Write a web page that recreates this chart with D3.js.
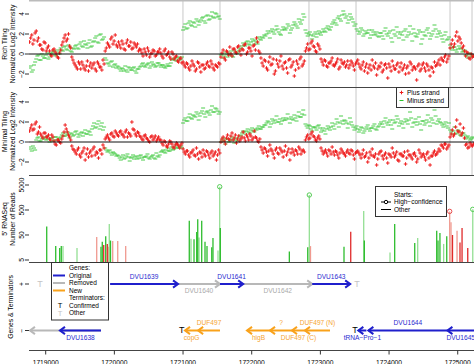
<!DOCTYPE html>
<html><head><meta charset="utf-8">
<script src="https://cdn.jsdelivr.net/npm/d3@7"></script>
<style>body{margin:0;background:#fff}svg{display:block;font-family:"Liberation Sans",Arial,Helvetica,sans-serif}</style>
</head><body><svg id="c" width="474" height="364"></svg>
<script>
// ---------- DATA ----------
// probe layout: two interleaved probe sets (A at start + i*step, B offset by half a step)
const probeStart = 1718765, probeStep = 32.4;
const richPlus = [1.2,1.9,1.4,2.3,1.6, 0.9,0.4,1.1,0.6, 0.3,-0.2,0.5,0.0,-0.4, 0.4,1.2,1.9,1.5,0.8,
 -0.3,-0.9,-1.3,-0.8,-1.5,-1.1,-1.6,-0.7,-1.2,-1.4,-0.9,-1.7,-1.0,-1.3,-0.6,
 0.3,1.1,0.7,1.7,1.3,0.9, 1.2,0.6,1.0,0.4,1.4,0.8,0.5,1.1,0.7,0.3,
 0.4,-0.2,0.2,0.6,-0.3,0.1,0.3,-0.1,0.2, 0.1,-0.4,0.5,0.0,-0.3,0.2, -0.5,-0.2,-0.8,-0.4,
 -0.8,-1.3,-1.0,-1.6,-0.7,-1.2,-1.5,-0.9,-1.8,-1.1,-1.4,-0.8,-1.3,-1.0,-1.6,-1.2,-0.9,
 -0.3,0.4,-0.6,0.2,0.7,-0.2, 0.5,0.1,0.8,-0.1,0.4,1.0,0.2,0.6,-0.2,0.9,1.6,0.3,
 -0.4,-1.2,-0.7,-1.6,-0.3,-1.0,-2.0,-0.6,-1.3,-0.2,-1.5,-0.8,-1.9,-0.5,-1.1,-2.2,-0.7,-1.4,-0.3,-1.0,
 0.3,1.0,0.5,1.3,0.7,0.2,0.8,
 -0.5,-1.1,-0.7,-1.3,-0.9,-0.4,-1.2,-0.8,-1.5,-0.6,-1.0,-1.3,-0.7,-1.1,-0.9,-1.6,-0.8,
 -1.0,-1.5,-0.8,-1.3,-1.9,-1.1,-0.6,-1.4,-2.1,-1.2,-0.9,-1.6,-1.0,-2.4,-1.3,-0.7,-1.5,-1.1,-1.8,-0.9,-1.4,-2.0,-1.2,-0.8,-1.6,-1.3,-2.6,-1.0,-1.5,-0.9,-1.7,-1.2,-2.2,-1.4,-0.8,-1.1,-0.6,
 -0.4,-0.7,-0.1,-0.5, 0.6,1.4,1.0,2.2,1.7,1.1,0.8, -0.2,0.1,-0.5,-0.3];
const richPlusB = [1.6,1.0,2.1,1.3,0.9, 0.5,1.2,0.3,0.8, -0.1,0.4,0.2,-0.3,0.1, 0.9,1.6,1.3,2.0,0.6,
 -0.6,-1.1,-1.5,-1.0,-0.8,-1.4,-1.2,-1.7,-0.9,-1.1,-1.5,-0.8,-1.3,-1.6,-1.0,
 0.6,0.9,1.5,1.0,1.9,0.7, 0.9,1.3,0.5,1.1,0.8,1.2,0.6,0.9,1.0,0.5,
 0.1,0.5,-0.1,0.3,0.0,0.4,-0.2,0.2,0.5, -0.2,0.3,-0.1,0.2,-0.5,0.0, -0.3,-0.7,-0.5,-0.9,
 -1.1,-0.9,-1.4,-1.2,-1.0,-1.7,-0.8,-1.3,-1.1,-1.5,-1.0,-1.2,-0.7,-1.4,-1.1,-1.3,-1.0,
 0.1,-0.4,0.3,-0.1,0.0,0.5, 0.2,0.7,0.3,0.5,0.9,0.0,0.6,0.3,0.8,0.4,1.2,0.1,
 -0.9,-0.6,-1.4,-0.8,-1.1,-0.5,-1.7,-1.0,-0.7,-1.2,-0.9,-1.4,-0.6,-1.3,-0.8,-1.6,-1.0,-0.5,-1.2,-0.7,
 0.6,0.4,1.1,0.8,0.3,1.0,0.5,
 -0.8,-0.6,-1.2,-0.9,-0.7,-1.1,-1.0,-0.5,-1.3,-0.9,-0.8,-1.1,-1.4,-0.7,-1.2,-1.0,-0.6,
 -1.3,-1.1,-1.7,-1.0,-1.4,-1.6,-1.2,-0.9,-1.5,-1.3,-1.8,-1.1,-1.4,-1.0,-1.7,-1.2,-1.5,-0.9,-1.3,-1.6,-1.1,-1.4,-1.9,-1.0,-1.3,-1.5,-1.2,-1.7,-1.1,-1.4,-1.0,-1.6,-1.3,-1.8,-1.2,-0.9,-1.1,
 -0.6,-0.3,-0.8,-0.2, 1.0,0.7,1.8,1.3,1.5,0.6,0.3, 0.2,-0.4,0.0,-0.2];
const richMinus = [-1.4,-1.8,-1.1, -0.5,-0.1,-0.6,-0.2,-0.4,0.1,-0.3, 0.0,0.3,-0.2,0.2,
 0.6,0.3,0.8,0.4,0.7,0.2,0.5, 0.9,0.5,1.2,0.7,1.0,0.6,1.4,0.8, 1.3,1.8,1.1,2.0,1.5,
 -0.4,-0.9,-1.2,-0.7,-1.1,-1.4, -1.3,-1.7,-1.5,-1.2,-1.8,-1.4,-1.6,-1.3,-1.9,-1.5,
 -1.2,-0.9,-1.3,-1.0,-1.4,-0.8,-1.1,-1.2,-0.9, -1.3,-1.1,-1.4,-1.0,-1.2, -0.6,-0.4,-0.7,-0.3,-0.5,
 2.4,3.0,2.6,3.3,2.8,3.1,3.5,2.9,3.4,3.7,3.1,3.9,3.5,4.2,3.6,4.0,3.8,
 -0.1,-0.4,0.2,-0.3,0.1,-0.2,0.4,0.0,0.3, 0.6,1.1,0.8,1.3,0.9,1.5,1.0,1.2,1.7,1.4,1.6,
 1.8,2.3,1.6,2.5,2.0,2.8,2.2,1.9,2.7,2.4,3.0,2.1,2.6,3.2,2.8,3.5,3.0,4.0,
 2.4,1.8,2.2,1.5,2.0,1.7,2.3,
 1.9,2.5,2.2,2.8,2.4,3.0, 3.4,2.9,3.8,3.3,4.3,3.6,3.1,4.0,3.5,2.8, 2.5,2.0,2.6,1.8,2.3,2.1,1.6,2.4,1.9,2.2,1.7,
 2.1,1.5,2.6,1.8,2.3,1.2,2.0,2.7,1.6,2.2,1.4,2.5,1.9,2.8,1.3,2.1,1.7,2.4,1.0,2.2,1.8,2.6,1.5,2.0,2.9,1.7,2.3,
 1.8,1.2,2.2,1.5, 0.9,0.4,0.7,0.2,0.8,0.5,0.3, -0.1,-0.4,0.0,-0.3];
const richMinusB = [-1.2,-1.6,-0.8, -0.2,-0.6,0.0,-0.4,-0.1,-0.5,0.1, 0.2,-0.1,0.4,0.0,
 0.4,0.7,0.5,0.9,0.3,0.6,0.8, 0.6,1.0,0.8,1.3,0.9,1.1,0.7,1.2, 1.6,1.2,1.9,1.4,1.7,
 -0.6,-1.0,-0.8,-1.3,-1.0,-1.2, -1.5,-1.4,-1.7,-1.6,-1.3,-1.6,-1.4,-1.7,-1.5,-1.3,
 -1.0,-1.2,-1.1,-0.9,-1.2,-1.0,-1.3,-0.9,-1.1, -1.1,-1.3,-1.2,-1.2,-0.9, -0.5,-0.6,-0.4,-0.6,-0.3,
 2.7,2.5,3.1,2.9,3.2,2.7,3.3,3.2,3.6,3.3,3.8,3.4,3.8,3.7,4.1,3.7,3.5,
 0.0,-0.2,0.0,-0.1,0.3,-0.3,0.2,0.1,0.5, 0.8,0.9,1.2,1.0,1.2,1.3,1.4,1.0,1.5,1.7,1.9,
 2.0,2.1,2.3,2.2,2.4,2.5,2.0,2.4,2.5,2.6,2.8,2.4,2.9,3.0,2.6,3.2,3.4,3.7,
 2.1,2.0,1.9,1.8,2.2,2.0,2.1,
 2.2,2.3,2.6,2.5,2.7,3.2, 3.1,3.6,3.5,3.9,4.0,3.8,3.4,3.7,3.2,3.0, 2.3,2.2,2.4,2.0,2.1,2.4,1.9,2.2,2.0,1.8,2.1,
 1.8,2.3,2.0,2.1,1.6,2.4,1.8,2.2,2.0,1.9,2.3,1.7,2.2,2.0,2.5,1.8,2.0,2.2,1.5,1.9,2.4,2.1,1.8,2.3,2.5,2.0,2.1,
 1.5,1.9,1.4,1.7, 0.6,0.7,0.4,0.5,0.6,0.2,0.4, -0.2,0.1,-0.2,-0.1];
const minPlus = [1.1,1.7,1.3,2.0,1.0, 0.8,0.4,0.9,0.5,0.3,0.7, 0.1,-0.3,0.2,-0.1, 0.6,1.7,1.0,0.5,
 -0.4,-0.8,-1.2,-0.6,-1.5,-0.9,-1.8,-0.7,-1.1,-1.4,-0.5,-1.0,-1.6,-0.8,-0.3,
 0.3,0.7,0.2,0.9,0.5, 0.9,0.6,1.1,0.7,1.0,0.5,0.8,2.0,1.2,0.6,0.9,
 0.5,0.2,0.7,0.3,0.0,0.6,0.4,0.1,0.5, 0.2,-0.3,0.0,-0.5,0.1,-0.2,-0.6,-0.1,-0.4,-0.3,
 -0.7,-1.2,-0.9,-1.5,-1.0,-1.3,-0.6,-1.7,-1.1,-0.8,-1.4,-1.0,-1.6,-0.9,-1.2,-1.8,-0.8,
 0.0,0.5,-0.2,0.7,0.2,0.9,0.4,-0.1,0.6,0.3,1.0,0.1,0.5,0.8,0.2,1.1,0.4,0.0,
 -0.5,-1.1,-0.7,-1.4,-0.3,-0.9,-1.6,-0.6,-1.2,-0.8,-1.5,-0.4,-1.0,-1.8,-0.7,-1.3,-0.9,-0.5,-1.2,-0.8,
 0.2,0.7,0.4,1.0,0.5,0.1,0.6,
 -0.6,-1.2,-0.8,-1.4,-0.9,-0.5,-1.3,-1.0,-1.6,-0.7,-1.1,-1.4,-0.8,-1.2,-0.9,-1.7,-1.0,
 -1.1,-1.6,-0.8,-1.4,-2.0,-1.0,-0.7,-1.5,-2.3,-1.2,-0.9,-1.7,-1.1,-2.1,-1.3,-0.6,-1.5,-1.0,-1.9,-1.2,-1.4,-2.2,-0.9,-1.3,-1.7,-1.1,-2.0,-0.8,-1.5,-1.2,-1.8,-1.0,-2.3,-1.4,-0.9,-1.2,-0.7,
 -0.3,-0.6,-0.2,-0.5, 0.5,1.2,0.8,2.2,1.0,0.7,1.4, -0.3,-0.6,-0.1,-0.4];
const minPlusB = [1.4,1.2,1.8,0.8,1.5, 0.6,0.9,0.5,0.7,0.2,0.5, -0.2,0.2,0.0,0.3, 1.0,1.3,0.7,0.2,
 -0.7,-1.0,-0.8,-1.3,-1.1,-0.6,-1.2,-1.5,-0.9,-0.7,-1.3,-1.1,-0.8,-1.2,-0.6,
 0.5,0.4,0.8,0.6,1.1, 0.7,1.0,0.8,0.5,1.2,0.9,0.6,1.3,0.8,1.0,0.6,
 0.3,0.6,0.4,0.1,0.5,0.2,0.6,0.3,0.2, -0.1,0.1,-0.4,-0.2,0.0,-0.5,-0.3,-0.2,-0.6,-0.1,
 -1.0,-0.9,-1.3,-1.1,-0.8,-1.4,-1.2,-1.0,-1.5,-1.2,-0.9,-1.3,-1.1,-1.4,-1.0,-1.3,-1.1,
 0.3,0.1,0.4,0.3,0.6,0.2,0.7,0.3,0.1,0.5,0.4,0.7,0.2,0.6,0.4,0.5,0.1,0.3,
 -0.8,-0.6,-1.0,-0.9,-0.7,-1.2,-0.8,-1.1,-0.6,-1.0,-0.9,-1.3,-0.7,-1.1,-1.0,-0.8,-1.2,-0.7,-0.9,-1.0,
 0.5,0.3,0.8,0.6,0.2,0.4,0.3,
 -0.9,-1.0,-1.1,-0.8,-1.2,-1.0,-0.9,-1.3,-1.1,-0.9,-1.2,-1.0,-1.1,-0.8,-1.3,-1.1,-0.9,
 -1.3,-1.2,-1.5,-1.1,-1.6,-1.3,-1.4,-1.2,-1.7,-1.0,-1.4,-1.3,-1.6,-1.2,-1.5,-1.1,-1.3,-1.8,-1.2,-1.4,-1.0,-1.6,-1.3,-1.5,-1.2,-1.4,-1.7,-1.1,-1.3,-1.5,-1.2,-1.6,-1.4,-1.1,-1.3,-1.0,-0.9,
 -0.4,-0.2,-0.7,-0.3, 0.8,0.6,1.5,1.1,1.8,0.9,0.4, -0.2,-0.5,-0.3,-0.2];
const minMinus = [-0.5,-0.9,-0.6, 0.2,0.5,0.1,0.4,0.3,0.6,0.0,0.4,0.2,0.5,0.3,
 0.5,0.9,0.6,1.0,0.4,0.8,0.7,1.1,0.5,0.9,0.6,1.2,0.8,1.0, 1.3,1.9,1.5,2.1,1.6,1.2,
 -0.6,-1.0,-0.8,-1.3,-1.1,-1.4,
 -1.4,-1.8,-1.3,-1.6,-1.2,-1.9,-1.5,-1.7,-1.4,-1.6,-1.3,-1.8,-1.5,-1.2,-1.7,-1.4,-1.6,-1.1,-1.5,
 -1.0,-0.8,-1.1,-0.6,-0.9,-0.5,-0.7,-0.3,-0.6,-0.4,
 1.9,2.4,2.1,2.8,2.3,2.6,3.0,2.2,2.9,3.4,2.5,3.1,2.7,3.6,3.0,3.3,2.8,
 0.0,0.4,-0.2,0.3,0.1,0.5,-0.1,0.2,0.4, 0.7,1.1,0.8,1.3,0.9,1.4,1.0,1.2,1.6,1.3,1.5,
 1.7,2.1,1.5,2.3,1.9,2.6,2.0,1.8,2.4,2.2,2.8,1.9,2.3,2.7,2.1,3.0,2.5,3.2,
 1.8,1.4,1.6,1.1,1.5,1.2,1.7,
 1.0,1.4,0.8,1.6,1.2,1.9,1.3,2.3,1.5,2.6,1.8,2.1,1.4,2.4,1.7,1.2,1.6,1.0,1.5,0.9,1.3,1.7,1.1,1.4,1.8,1.2,1.6,
 2.0,1.5,2.4,1.7,2.2,1.3,1.9,2.6,1.6,2.1,1.4,2.3,1.8,3.0,1.5,2.0,1.7,2.5,1.2,2.1,1.9,2.7,1.6,2.2,3.2,1.8,2.3,
 1.9,1.5,2.0,1.4, 1.2,0.8,1.5,0.9,1.1,0.6,0.9, 0.3,0.6,0.2,0.5];
const minMinusB = [-0.7,-0.4,-0.8, 0.4,0.1,0.3,0.5,0.2,0.3,0.4,0.1,0.5,0.2,0.4,
 0.7,0.6,0.8,0.7,0.9,0.6,1.0,0.8,0.7,1.0,0.9,0.8,1.1,0.7, 1.6,1.4,1.8,1.3,1.9,1.5,
 -0.8,-0.9,-1.1,-1.0,-1.2,-1.3,
 -1.6,-1.5,-1.7,-1.4,-1.5,-1.6,-1.3,-1.5,-1.7,-1.4,-1.6,-1.5,-1.4,-1.6,-1.5,-1.3,-1.7,-1.4,-1.3,
 -0.9,-1.0,-0.8,-0.9,-0.7,-0.8,-0.5,-0.6,-0.5,-0.6,
 2.2,2.1,2.5,2.4,2.7,2.5,2.8,2.6,3.1,2.8,3.0,2.9,3.2,3.0,3.4,3.1,3.0,
 0.2,0.1,0.3,0.0,0.3,0.2,0.4,0.1,0.6, 0.9,1.0,1.1,1.0,1.2,1.1,1.3,1.4,1.3,1.5,1.7,
 1.9,2.0,1.8,2.1,2.2,2.0,2.3,2.1,2.2,2.4,2.3,2.5,2.2,2.4,2.6,2.5,2.8,2.7,
 1.6,1.7,1.3,1.5,1.4,1.6,1.4,
 1.2,1.1,1.3,1.4,1.5,1.6,1.8,2.0,1.9,2.1,2.2,1.9,1.8,2.0,1.5,1.4,1.3,1.2,1.4,1.1,1.5,1.3,1.4,1.6,1.3,1.5,1.8,
 1.8,2.1,1.9,2.0,1.7,2.2,2.0,2.3,1.9,1.8,2.0,2.1,2.2,2.4,1.9,2.3,2.0,1.8,2.1,1.7,2.2,2.0,2.4,1.9,2.6,2.1,2.0,
 1.7,1.8,1.6,1.9, 1.0,1.1,0.8,1.2,0.7,0.9,0.7, 0.5,0.4,0.3,0.4];
const boundaries = [1720999, 1721538, 1722834, 1723519, 1724888, 1725208];

const rnaPos = [1719015,1719146,1719204,1719227,1719252,1719456,1719743,1719805,1719824,1719845,1719874,1719897,1719912,1719926,1719944,1719976,1720049,1720165,
 1721091,1721116,1721160,1721199,1721214,1721233,1721272,1721320,1721349,1721418,1721436,1721509,1721534,1721543,1722548,1722816,1722839,1722856,
 1723344,1723442,1723631,1723640,1724014,1724082,1724374,1724417,1724694,1724713,1724741,1724795,1724840,1724883,1724902,1724924,1724990,1725033,1725063,1725146,1725219];
const rnaCount = [110,18,15,18,18,15,42,17,27,20,45,22,17,137,30,29,29,18,
 186,35,34,66,211,40,186,27,18,16,38,12,4250,95,11,16,1990,18,
 17,68,456,30,10,137,24,38,74,30,60,22,45,440,160,50,74,25,95,15,530];
const rnaStrand = [-1,-1,-1,-1,-1,-1,1,-1,-1,1,-1,1,1,-1,-1,1,1,1,
 -1,-1,-1,-1,-1,-1,-1,-1,-1,-1,-1,-1,-1,-1,-1,-1,-1,1,
 -1,1,-1,-1,-1,-1,-1,-1,-1,-1,-1,-1,-1,1,1,1,1,1,1,1,-1];
const rnaStrong = [1,1,1,1,0,0,0,1,1,1,1,1,0,0,1,0,0,0,
 1,0,1,1,1,0,1,1,1,1,1,0,0,1,1,1,0,0,
 1,1,0,1,0,1,1,0,1,1,1,0,1,0,0,1,0,1,1,1,0];
const rnaHigh = [1721534,1722839,1724883,1725219];

const geneName  = ["", "DVU1638","DVU1639","DVU1640","DVU1641","DVU1642","DVU1643","copG","DUF497","higB","?","DUF497 (C)","DUF497 (N)","tRNA\u2212Pro\u22121","DVU1644","DVU1645"];
const geneFrom  = [1719805,1719805,1719938,1720927,1721538,1721876,1722881,1721220,1721538,1722267,1722587,1722776,1723140,1723670,1724850,1725700];
const geneTo    = [1718771,1719208,1720927,1721538,1721876,1722881,1723434,1721029,1721220,1721932,1722267,1722587,1722776,1723553,1723699,1724850];
const geneStrand= [-1,-1,1,1,1,1,1,-1,-1,-1,-1,-1,-1,-1,-1,-1];
const geneType  = ["removed","original","original","removed","original","removed","original","new","new","new","new","new","new","original","original","original"];
const geneLabelSide = ["none","below","above","below","above","below","above","below","above","below","above","below","above","below","above","below"];

const termPos = [1718917,1723535,1720981,1723504];
const termStrand = [1,1,-1,-1];
const termType = ["other","other","confirmed","confirmed"];

const xTicks = [1719000,1720000,1721000,1722000,1723000,1724000,1725000];
const tilingTicks = [-2,0,2,4];
const rnaTicks = [5,50,500,5000];
const strandTicks = [1,-1];

// ---------- DRAW ----------
const svg = d3.select('#c');
const X0 = 29, X1 = 474;
const x = d3.scaleLinear().domain([1718757,1725237]).range([X0,X1]);
const y1 = d3.scaleLinear().domain([-3.35,5.35]).range([87.5,0.5]);
const y2 = d3.scaleLinear().domain([-3.35,5.45]).range([175.5,87.5]);
const y3 = d3.scaleLog().domain([3.97,11456]).range([262.5,176]);
const y4 = d3.scaleLinear().domain([-1,1]).range([330.5,284]);
const RED='#ee1c1c', GREEN='#2cc42c', BLUE='#1f1fcc', GREY='#b8b8b8', ORANGE='#f9a21b';

svg.append('defs').append('clipPath').attr('id','pc').append('rect')
  .attr('x',X0).attr('y',0).attr('width',X1-X0).attr('height',364);
const plot = svg.append('g').attr('clip-path','url(#pc)');

plot.selectAll('line.bd').data(boundaries).join('line').attr('class','bd')
  .attr('x1',d=>x(d)).attr('x2',d=>x(d)).attr('y1',1).attr('y2',175.5)
  .attr('stroke','#c8c8c8').attr('stroke-width',1);

function tiling(ys, plusSets, minusSets){
  const g = plot.append('g');
  minusSets.forEach((arr,k)=>{
    const pos = i => probeStart + (i + k*0.5)*probeStep;
    g.selectAll(null).data(arr).join('line')
      .attr('x1',(d,i)=>x(pos(i))-2).attr('x2',(d,i)=>x(pos(i))+2)
      .attr('y1',d=>ys(d)).attr('y2',d=>ys(d))
      .attr('stroke',GREEN).attr('stroke-width',1).attr('opacity',0.85);
  });
  plusSets.forEach((arr,k)=>{
    const pos = i => probeStart + (i + k*0.5)*probeStep;
    g.selectAll(null).data(arr).join('path')
      .attr('d',(d,i)=>{const cx=x(pos(i)), cy=ys(d); return `M${cx-1.8},${cy}H${cx+1.8}M${cx},${cy-1.8}V${cy+1.8}`;})
      .attr('stroke',RED).attr('stroke-width',1).attr('fill','none');
  });
  g.append('line').attr('x1',X0).attr('x2',X1).attr('y1',ys(0)).attr('y2',ys(0))
    .attr('stroke','#111').attr('stroke-width',1);
}
tiling(y1, [richPlus, richPlusB], [richMinus, richMinusB]);
tiling(y2, [minPlus, minPlusB], [minMinus, minMinusB]);

// RNA-seq bars
const rnaIdx = d3.range(rnaPos.length);
const barColor = i => rnaStrand[i] > 0 ? (rnaStrong[i] ? '#e02a2a' : '#f09a90') : (rnaStrong[i] ? '#2ebd2e' : '#93df93');
const orderIdx = rnaIdx.slice().sort((a,b)=>rnaStrong[a]-rnaStrong[b]);
plot.selectAll(null).data(orderIdx).join('line')
  .attr('x1',i=>x(rnaPos[i])).attr('x2',i=>x(rnaPos[i]))
  .attr('y1',y3(3.97)).attr('y2',i=>y3(rnaCount[i]))
  .attr('stroke',barColor).attr('stroke-width',1.3);
plot.selectAll(null).data(rnaIdx.filter(i=>rnaHigh.includes(rnaPos[i]))).join('circle')
  .attr('cx',i=>x(rnaPos[i])).attr('cy',i=>y3(rnaCount[i])).attr('r',2.2)
  .attr('fill','none').attr('stroke',i=>rnaStrand[i]>0?'#e85050':'#55cc55').attr('stroke-width',1);

svg.append('line').attr('x1',X0).attr('x2',X1).attr('y1',0.7).attr('y2',0.7).attr('stroke','#bbb').attr('stroke-width',1.4);
[87.5,175.5,262.5,350.5].forEach(v=>svg.append('line').attr('x1',X0).attr('x2',X1).attr('y1',v).attr('y2',v).attr('stroke','#444').attr('stroke-width',1));

// genes
const gIdx = d3.range(geneName.length);
const typeColor = t => t==='original'?BLUE:(t==='removed'?GREY:ORANGE);
const labelColor = t => t==='original'?'#2a2ad0':(t==='removed'?'#aaaaaa':'#f5a533');
const order = t => t==='removed'?0:(t==='new'?1:2);
const gg = plot.append('g');
gIdx.slice().sort((a,b)=>order(geneType[a])-order(geneType[b])).forEach(i=>{
  const xa = x(geneFrom[i]), xb = x(geneTo[i]), yy = y4(geneStrand[i]);
  const dir = xb > xa ? 1 : -1;
  const c = typeColor(geneType[i]);
  gg.append('line').attr('x1',xa).attr('x2',xb).attr('y1',yy).attr('y2',yy).attr('stroke',c).attr('stroke-width',2);
  gg.append('path').attr('d',`M${xb-dir*5},${yy-3.6}L${xb},${yy}L${xb-dir*5},${yy+3.6}`)
    .attr('fill','none').attr('stroke',c).attr('stroke-width',2);
});
gIdx.filter(i=>geneLabelSide[i]!=='none').forEach(i=>{
  const a = Math.max(X0, Math.min(x(geneFrom[i]),x(geneTo[i])));
  const b = Math.min(X1, Math.max(x(geneFrom[i]),x(geneTo[i])));
  const yy = y4(geneStrand[i]) + (geneLabelSide[i]==='above' ? -7.5 : 6.8);
  gg.append('text').attr('x',(a+b)/2).attr('y',yy).attr('dy','0.35em')
    .attr('text-anchor','middle').attr('font-size',6.6).attr('fill',labelColor(geneType[i])).text(geneName[i]);
});
termPos.forEach((p,i)=>{
  gg.append('text').attr('x',x(p)).attr('y',y4(termStrand[i])-0.5).attr('dy','0.36em')
    .attr('text-anchor','middle').attr('font-size',9)
    .attr('fill',termType[i]==='confirmed'?'#000':'#c4c4c4').text('T');
});

// axes
const ax = svg.append('g').attr('font-size',6.7).attr('fill','#000');
xTicks.forEach(t=>{
  ax.append('line').attr('x1',x(t)).attr('x2',x(t)).attr('y1',350.5).attr('y2',354.5).attr('stroke','#333');
  ax.append('text').attr('x',x(t)).attr('y',364.5).attr('text-anchor','middle').text(d3.format('d')(t));
});
function yTicks(scale, ticks, fmt){
  ticks.forEach(t=>{
    const yy = scale(t);
    ax.append('line').attr('x1',25).attr('x2',29).attr('y1',yy).attr('y2',yy).attr('stroke','#333');
    ax.append('text').attr('transform',`translate(23.5,${yy}) rotate(-90)`).attr('text-anchor','middle').text(fmt(t));
  });
}
const fmtT = d => d<0 ? '\u2212'+Math.abs(d) : String(d);
yTicks(y1, tilingTicks, fmtT);
yTicks(y2, tilingTicks, fmtT);
yTicks(y3, rnaTicks, d=>String(d));
yTicks(y4, strandTicks, d=>d>0?'+':'\u2212');

function title(lines, cy){
  lines.forEach((s,k)=>{
    const xx = lines.length===2 ? (k===0?7:14.5) : 13;
    ax.append('text').attr('transform',`translate(${xx},${cy}) rotate(-90)`).attr('text-anchor','middle').attr('font-size',6.8).text(s);
  });
}
title(['Rich Tiling','Normalized Log2 Intensity'], 44);
title(['Minimal Tiling','Normalized Log2 Intensity'], 131.5);
title(["5' RNASeq",'Number of Reads'], 219);
title(['Genes & Terminators'], 307);

// legends
const L = svg.append('g').attr('font-size',6.5);
L.append('rect').attr('x',396.5).attr('y',87.5).attr('width',52).attr('height',20).attr('fill','#fff').attr('stroke','#333');
L.append('path').attr('d','M399.7,92.5H403.3M401.5,90.7V94.3').attr('stroke',RED).attr('fill','none');
L.append('line').attr('x1',399.5).attr('x2',403.5).attr('y1',100.5).attr('y2',100.5).attr('stroke',GREEN);
L.append('text').attr('x',407).attr('y',92.5).attr('dy','0.35em').text('Plus strand');
L.append('text').attr('x',407).attr('y',100.5).attr('dy','0.35em').text('Minus strand');
L.append('rect').attr('x',375.5).attr('y',186.5).attr('width',71).attr('height',30).attr('fill','#fff').attr('stroke','#333');
L.append('text').attr('x',394).attr('y',194.5).attr('dy','0.35em').text('Starts:');
L.append('line').attr('x1',381).attr('x2',391).attr('y1',202).attr('y2',202).attr('stroke','#000');
L.append('circle').attr('cx',386).attr('cy',202).attr('r',1.7).attr('fill','#fff').attr('stroke','#000');
L.append('text').attr('x',394).attr('y',202).attr('dy','0.35em').text('High\u2212confidence');
L.append('line').attr('x1',381).attr('x2',391).attr('y1',209.5).attr('y2',209.5).attr('stroke','#000');
L.append('text').attr('x',394).attr('y',209.5).attr('dy','0.35em').text('Other');
L.append('rect').attr('x',51.5).attr('y',262.5).attr('width',57).attr('height',57.5).attr('fill','#fff').attr('stroke','#333');
const lg = [['Genes:',null,267.5],['Original',BLUE,275.5],['Removed',GREY,283],['New',ORANGE,290.5],['Terminators:',null,298],['Confirmed','T#000',305.5],['Other','T#c4c4c4',313]];
lg.forEach(([t,c,yy])=>{
  if(c && c[0]==='T'){
    L.append('text').attr('x',60).attr('y',yy).attr('dy','0.36em').attr('text-anchor','middle').attr('font-size',7.5).attr('fill',c.slice(1)).text('T');
  } else if(c){
    L.append('line').attr('x1',53).attr('x2',65).attr('y1',yy).attr('y2',yy).attr('stroke',c).attr('stroke-width',2);
  }
  L.append('text').attr('x',69).attr('y',yy).attr('dy','0.35em').text(t);
});
</script></body></html>
